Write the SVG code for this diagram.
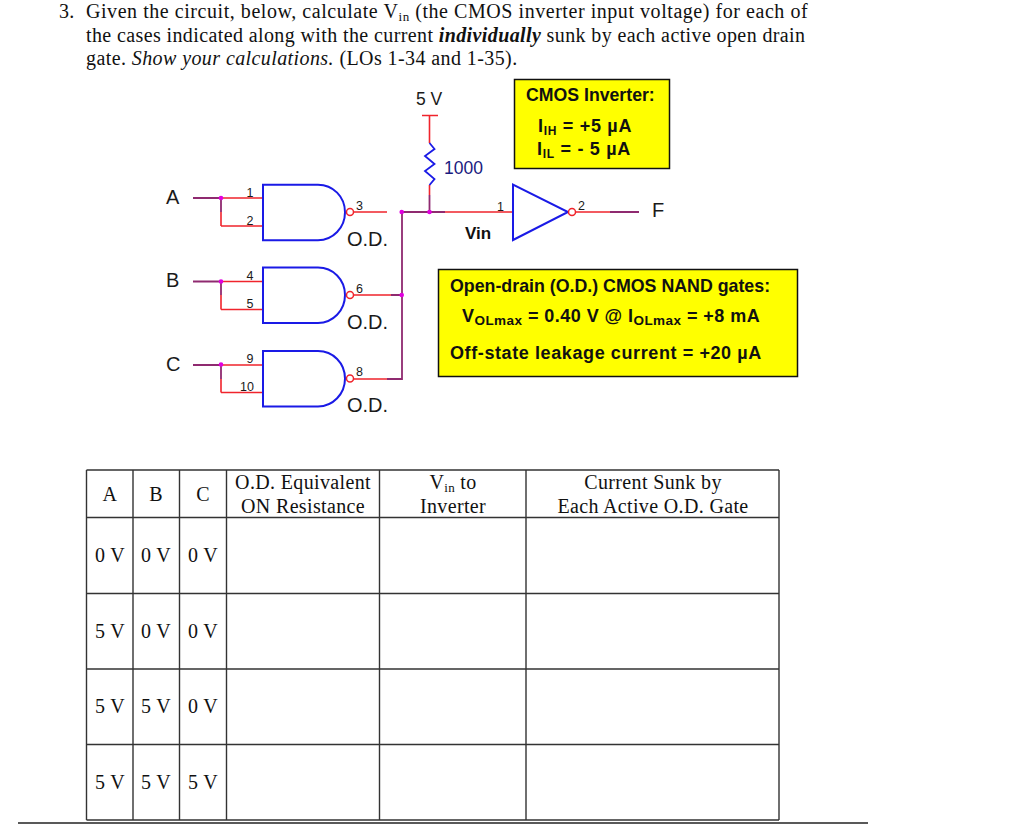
<svg xmlns="http://www.w3.org/2000/svg" width="1024" height="826" viewBox="0 0 1024 826">
<style>
.t{font-family:"Liberation Serif",serif;font-size:20px;letter-spacing:.35px;fill:#111}
.s{font-family:"Liberation Sans",sans-serif;fill:#1a1a1a}
.l{font-size:20px}
.n{font-size:12.5px}
.b{font-family:"Liberation Sans",sans-serif;font-weight:bold;font-size:18px;fill:#111}
.c{text-anchor:middle}
.gate{fill:none;stroke:#1a1ae6;stroke-width:2}
.red{fill:none;stroke:#f0242c;stroke-width:1.6}
.pur{fill:none;stroke:#8f2a70;stroke-width:1.8}
.dot{fill:#e000e0}
.bub{fill:#fff;stroke:#f0242c;stroke-width:1.5}
.box{fill:#ff0;stroke:#111;stroke-width:1.5}
.g{stroke:#333;stroke-width:1.4;fill:none}
</style>
<defs>
<path id="nand" class="gate" d="M263 0H318C333 0 345 12 345 27.5C345 43 333 55.5 318 55.5H263Z"/>
</defs>
<g id="question">
<text class="t" x="59" y="18">3.</text>
<text class="t" x="86" y="18" style="letter-spacing:.55px">Given the circuit, below, calculate V<tspan font-size="13" dy="3">in</tspan><tspan dy="-3"> (the CMOS inverter input voltage) for each of</tspan></text>
<text class="t" x="86" y="42" style="letter-spacing:.39px">the cases indicated along with the current <tspan font-weight="bold" font-style="italic">individually</tspan> sunk by each active open drain</text>
<text class="t" x="86" y="65" style="letter-spacing:.41px">gate.  <tspan font-style="italic">Show your calculations.</tspan> (LOs 1-34 and 1-35).</text>
</g>
<g id="connectors">
<path class="pur" d="M193 198H221M221 198V212M193 281.500H221M221 281.500V295M193 365H221M221 365V379M402 212V379H387M402 212H445M429.500 195V212M402 295H391M610 212H639"/>
<path class="red" d="M221 198H263M221 226H263M221 212V226M221 281.500H263M221 309.500H263M221 295V309.500M221 365H263M221 392.500H263M221 379V392.500M354 212H387M354 295H391M354 379H387M445 212H513M576 212H610M422 115.500H438M429.500 115.500V143M429.500 185V195"/>
<path fill="none" stroke="#1a1ae6" stroke-width="1.8" d="M429.500 143L434.500 149L425 156L434.500 164L425 171L434.500 179L429.500 185"/>
<circle class="dot" cx="221" cy="198" r="2.300"/>
<circle class="dot" cx="221" cy="281.500" r="2.300"/>
<circle class="dot" cx="221" cy="364.500" r="2.300"/>
<circle class="dot" cx="401.700" cy="212" r="2.300"/>
<circle class="dot" cx="401.700" cy="295" r="2.300"/>
<circle class="dot" cx="429.500" cy="212" r="2.300"/>
</g>
<g id="gate1">
<use href="#nand" y="184.700"/><circle class="bub" cx="350" cy="212" r="3.500"/>
<text class="s n c" x="250" y="197">1</text><text class="s n c" x="250" y="225">2</text><text class="s n" x="356" y="210">3</text>
<text class="s l" x="347" y="246">O.D.</text><text class="s l" x="166" y="204">A</text>
</g>
<g id="gate2">
<use href="#nand" y="267.500"/><circle class="bub" cx="350" cy="295" r="3.500"/>
<text class="s n c" x="250" y="280">4</text><text class="s n c" x="250" y="308">5</text><text class="s n" x="356" y="293">6</text>
<text class="s l" x="347" y="329">O.D.</text><text class="s l" x="166" y="287">B</text>
</g>
<g id="gate3">
<use href="#nand" y="351"/><circle class="bub" cx="350" cy="378.500" r="3.500"/>
<text class="s n c" x="250" y="363">9</text><text class="s n c" x="247" y="391">10</text><text class="s n" x="356" y="376">8</text>
<text class="s l" x="347" y="412">O.D.</text><text class="s l" x="166" y="371">C</text>
</g>
<g id="resistor">
<text class="s" font-size="17.500" x="416" y="105">5 V</text>
<text class="s" font-size="17.500" style="fill:#1a1a80" x="444" y="174">1000</text>
<text class="b" style="font-size:17px" x="465" y="239">Vin</text>
</g>
<g id="inverter">
<path class="gate" d="M513 184.700V240L568 212Z"/><circle class="bub" cx="572" cy="212" r="3.500"/>
<text class="s n" x="497" y="211">1</text><text class="s n" x="578" y="210">2</text>
<text class="s l" x="652" y="217">F</text>
</g>
<g id="cmos-box">
<rect class="box" x="514.500" y="79.500" width="155" height="89"/>
<text class="b" style="font-size:17.700px" x="526" y="101">CMOS Inverter:</text>
<text class="b" style="letter-spacing:.7px" x="538" y="132">I<tspan font-size="12" dy="3">IH</tspan><tspan dy="-3"> = +5 µA</tspan></text>
<text class="b" style="letter-spacing:.7px" x="537" y="155">I<tspan font-size="12" dy="3">IL</tspan><tspan dy="-3"> = - 5 µA</tspan></text>
</g>
<g id="od-box">
<rect class="box" x="438.500" y="269.500" width="359" height="107"/>
<text class="b" style="font-size:17.800px" x="450" y="292">Open-drain (O.D.) CMOS NAND gates:</text>
<text class="b" style="letter-spacing:.45px" x="462" y="322">V<tspan font-size="13.500" dy="3">OLmax</tspan><tspan dy="-3"> = 0.40 V @ I</tspan><tspan font-size="13.500" dy="3">OLmax</tspan><tspan dy="-3"> = +8 mA</tspan></text>
<text class="b" style="letter-spacing:.6px" x="450" y="359">Off-state leakage current = +20 µA</text>
</g>
<g id="table">
<path class="g" d="M86.500 470H779M86.500 517.500H779M86.500 593.500H779M86.500 669H779M86.500 744.500H779M86.500 820H779M86.500 470V820M133 470V820M179.500 470V820M226.500 470V820M379.500 470V820M526 470V820M779 470V820"/>
<text class="t c" x="110" y="501">A</text><text class="t c" x="156" y="501">B</text><text class="t c" x="203" y="501">C</text>
<text class="t c" x="303" y="489">O.D. Equivalent</text><text class="t c" x="303" y="513">ON Resistance</text>
<text class="t c" x="453" y="489">V<tspan font-size="13" dy="3">in</tspan><tspan dy="-3"> to</tspan></text><text class="t c" x="453" y="513">Inverter</text>
<text class="t c" x="653" y="489">Current Sunk by</text><text class="t c" x="653" y="513">Each Active O.D. Gate</text>
<text class="t c" x="110" y="562">0 V</text><text class="t c" x="156" y="562">0 V</text><text class="t c" x="203" y="562">0 V</text>
<text class="t c" x="110" y="638">5 V</text><text class="t c" x="156" y="638">0 V</text><text class="t c" x="203" y="638">0 V</text>
<text class="t c" x="110" y="713">5 V</text><text class="t c" x="156" y="713">5 V</text><text class="t c" x="203" y="713">0 V</text>
<text class="t c" x="110" y="789">5 V</text><text class="t c" x="156" y="789">5 V</text><text class="t c" x="203" y="789">5 V</text>
</g>
<path stroke="#222" stroke-width="1.600" d="M18 823H868"/>
</svg>
